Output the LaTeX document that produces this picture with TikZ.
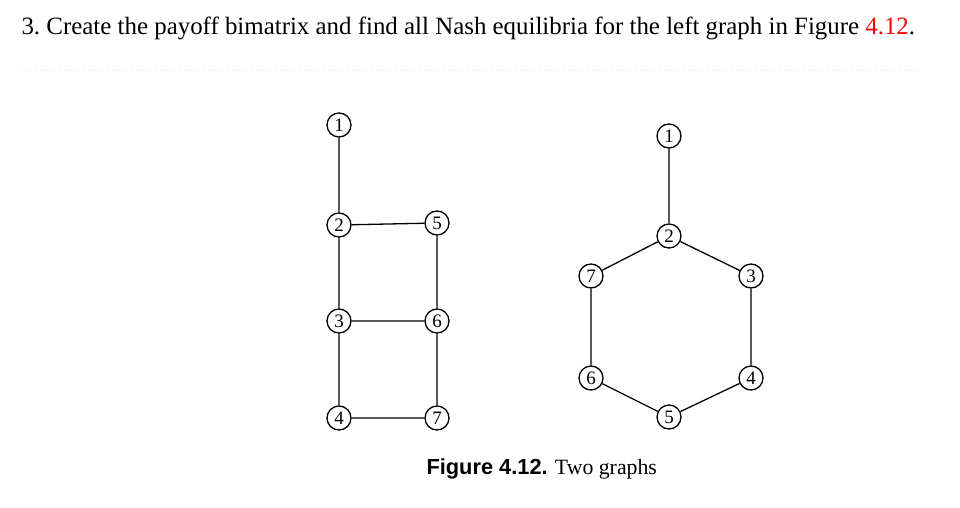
\documentclass[tikz,border=0pt]{standalone}
\usepackage{fontspec}
\setmainfont{Liberation Serif}
\newfontfamily\capsans{Liberation Sans}
\begin{document}
\begin{tikzpicture}[x=1pt,y=-1pt]
\tikzset{v/.style={circle,draw,line width=1.3pt,minimum size=24pt,inner sep=0pt,font=\fontsize{19}{19}\selectfont},
e/.style={line width=1.3pt}}
\useasboundingbox (0,0) rectangle (960,508);
\node[anchor=west,font=\fontsize{24.9}{28}\selectfont] (title) at (18,28) {3.\ Create the payoff bimatrix and find all Nash equilibria for the left graph in Figure \textcolor{red}{4.12}.};
\draw[gray!12,dashed,line width=0.6pt] (22,70) -- (920,70);
\node[v] (a1) at (339,125) {1};
\node[v] (a2) at (339,225) {2};
\node[v] (a3) at (339,321) {3};
\node[v] (a4) at (339,418) {4};
\node[v] (a5) at (437,223) {5};
\node[v] (a6) at (437,321) {6};
\node[v] (a7) at (437,418) {7};
\draw[e] (a1)--(a2) (a2)--(a3) (a3)--(a4) (a2)--(a5) (a5)--(a6) (a3)--(a6) (a6)--(a7) (a4)--(a7);
\node[v] (b1) at (669,136) {1};
\node[v] (b2) at (669,236) {2};
\node[v] (b7) at (591,276) {7};
\node[v] (b3) at (751,276) {3};
\node[v] (b6) at (591,378) {6};
\node[v] (b4) at (751,378) {4};
\node[v] (b5) at (669,417) {5};
\draw[e] (b1)--(b2) (b2)--(b7) (b2)--(b3) (b7)--(b6) (b3)--(b4) (b6)--(b5) (b4)--(b5);
\node[anchor=west,font=\fontsize{21.8}{24}\selectfont] (cap) at (423,469) {{\capsans\bfseries Figure 4.12.} Two graphs};
\end{tikzpicture}
\end{document}
